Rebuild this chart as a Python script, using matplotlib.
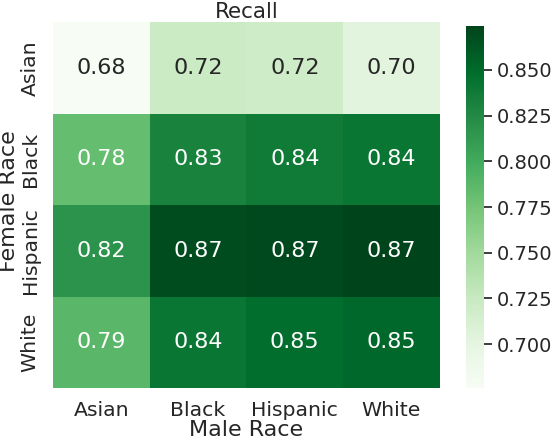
import numpy as np
import matplotlib
matplotlib.use("Agg")
import matplotlib.pyplot as plt
import seaborn as sns

male_race = ["Asian", "Black", "Hispanic", "White"]
female_race = ["Asian", "Black", "Hispanic", "White"]

recall = np.array([
    [0.676, 0.722, 0.719, 0.703],
    [0.782, 0.831, 0.838, 0.842],
    [0.818, 0.869, 0.871, 0.874],
    [0.788, 0.842, 0.848, 0.852],
])

sns.set_theme(style="white", font_scale=1.45)

fig = plt.figure(figsize=(5.55, 4.42), dpi=100)
ax = fig.add_axes([0.0955, 0.122, 0.697, 0.828])
cax = fig.add_axes([0.840, 0.122, 0.032, 0.819])
sns.heatmap(recall, annot=True, fmt=".2f", cmap="Greens",
            xticklabels=male_race, yticklabels=female_race, ax=ax,
            cbar_ax=cax, annot_kws={"size": 16})
ax.set_title("Recall", fontsize=15.5, pad=3)
ax.set_xlabel("Male Race", fontsize=16, labelpad=0)
ax.set_ylabel("Female Race", fontsize=16)
ax.yaxis.set_label_coords(-0.089, 0.51)
ax.tick_params(labelsize=14.7)
cax.tick_params(labelsize=14)

plt.savefig("out.png", dpi=100)
